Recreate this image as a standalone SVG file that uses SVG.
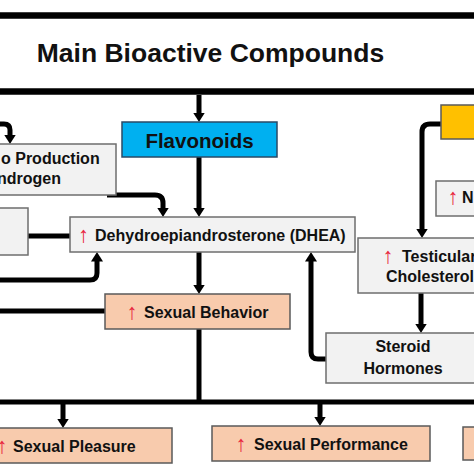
<svg xmlns="http://www.w3.org/2000/svg" width="474" height="474" viewBox="0 0 474 474">
<defs>
<style>
.t{font-family:"Liberation Sans",Arial,sans-serif;font-weight:bold;font-size:16px;fill:#111}
.up{font-family:"Liberation Sans",Arial,sans-serif;font-weight:normal;font-size:22px;fill:#e8263f}
.gray{fill:#f2f2f2;stroke:#6e6e6e;stroke-width:1.5}
.peach{fill:#f8cbad;stroke:#5a5a5a;stroke-width:1.5}
.c{fill:none;stroke:#000;stroke-width:5}
</style>
<marker id="ah" markerUnits="userSpaceOnUse" markerWidth="10" markerHeight="12" viewBox="0 0 10 12" refX="0.5" refY="6" orient="auto">
<path d="M0,0 L9.5,6 L0,12 z" fill="#000"/>
</marker>
</defs>
<rect width="474" height="474" fill="#fff"/>
<g id="header">
<rect x="-10" y="15.5" width="494" height="76" fill="#fff" stroke="#000" stroke-width="6.5"/>
<text x="210.5" y="62" text-anchor="middle" class="t" style="font-size:26.5px">Main Bioactive Compounds</text>
</g>
<g id="connectors">
<path class="c" d="M199,95 V113" marker-end="url(#ah)"/>
<path class="c" d="M199,157 V208" marker-end="url(#ah)"/>
<path class="c" d="M-2,124 H4 Q10,124 10,130 V135" marker-end="url(#ah)"/>
<path class="c" d="M107,195 H155 Q163,195 163,203 V208" marker-end="url(#ah)"/>
<path class="c" d="M28,236 H70"/>
<path class="c" d="M-2,280 H90 Q97,280 97,273 V261" marker-end="url(#ah)"/>
<path class="c" d="M199,252 V285" marker-end="url(#ah)"/>
<path class="c" d="M-2,311 H105"/>
<path class="c" d="M199,329 V402"/>
<path class="c" d="M-2,402 H476"/>
<path class="c" d="M63,402 V419" marker-end="url(#ah)"/>
<path class="c" d="M320,402 V417" marker-end="url(#ah)"/>
<path class="c" d="M441,124 H430 Q422,124 422,132 V229" marker-end="url(#ah)"/>
<path class="c" d="M421,293 V324" marker-end="url(#ah)"/>
<path class="c" d="M326,359 H318 Q311,359 311,352 V261" marker-end="url(#ah)"/>
</g>
<g id="flavonoids">
<rect x="122" y="122" width="155" height="35" fill="#00b0f0" stroke="#2a4a66" stroke-width="1.5"/>
<text x="199.5" y="148" text-anchor="middle" class="t" style="font-size:20.5px">Flavonoids</text>
</g>
<g id="androgen">
<rect x="-5" y="144" width="121" height="51" class="gray"/>
<text class="t"><tspan x="1" y="164">o Production</tspan><tspan x="-3" y="184">ndrogen</tspan></text>
</g>
<g id="leftbox">
<rect x="-5" y="208" width="33" height="47" class="gray"/>
</g>
<g id="dhea">
<rect x="70" y="217" width="285" height="35" class="gray"/>
<text class="t" y="242"><tspan class="up" x="78">↑</tspan><tspan x="95" y="241">Dehydroepiandrosterone (DHEA)</tspan></text>
</g>
<g id="behavior">
<rect x="105" y="294" width="185" height="35" class="peach"/>
<text class="t" y="319"><tspan class="up" x="126.5">↑</tspan><tspan x="144" y="318">Sexual Behavior</tspan></text>
</g>
<g id="pleasure">
<rect x="-5" y="428" width="177" height="35" class="peach"/>
<text class="t" y="453"><tspan class="up" x="-3.5">↑</tspan><tspan x="13" y="452">Sexual Pleasure</tspan></text>
</g>
<g id="performance">
<rect x="212" y="426" width="218" height="35" class="peach"/>
<text class="t" y="451"><tspan class="up" x="235.5">↑</tspan><tspan x="254" y="450">Sexual Performance</tspan></text>
</g>
<g id="rightpeach">
<rect x="463" y="427" width="20" height="33" class="peach"/>
</g>
<g id="yellow">
<rect x="441" y="105" width="40" height="34" fill="#ffc000" stroke="#5a5a5a" stroke-width="1.5"/>
</g>
<g id="nbox">
<rect x="436" y="181" width="45" height="35" class="gray"/>
<text class="t" y="204"><tspan class="up" x="447.5">↑</tspan><tspan x="462" y="203">N</tspan></text>
</g>
<g id="testicular">
<rect x="358" y="238" width="125" height="55" class="gray"/>
<text class="t"><tspan class="up" x="382.5" y="263">↑</tspan><tspan x="402" y="262">Testicular</tspan><tspan x="386" y="282">Cholesterol</tspan></text>
</g>
<g id="steroid">
<rect x="326" y="333" width="155" height="50" class="gray"/>
<text class="t" text-anchor="middle"><tspan x="403" y="352">Steroid</tspan><tspan x="403" y="374">Hormones</tspan></text>
</g>
</svg>
